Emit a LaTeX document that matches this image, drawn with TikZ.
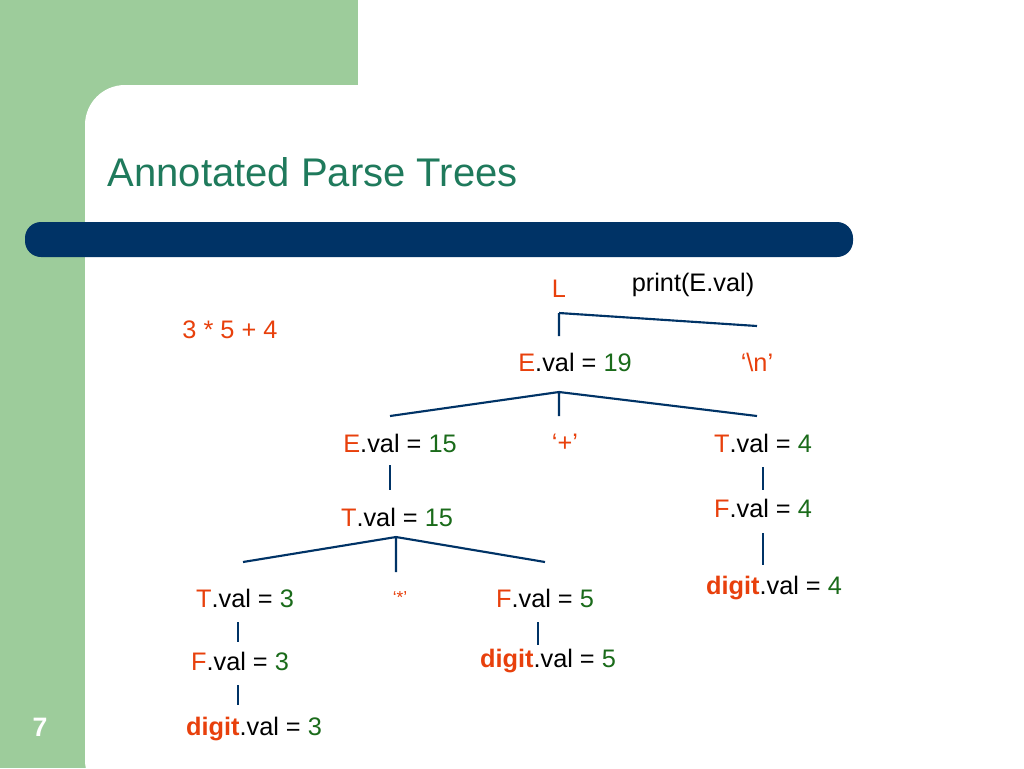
\documentclass[tikz,border=0pt]{standalone}
\usepackage{fontspec}
\setmainfont{Liberation Sans}
\usetikzlibrary{calc}
\definecolor{slidegreen}{HTML}{9DCC9B}
\definecolor{titlegreen}{HTML}{1F7A5C}
\definecolor{barblue}{HTML}{003366}
\definecolor{ntred}{HTML}{E8400C}
\definecolor{valgreen}{HTML}{1A6B1A}
\newcommand{\nt}[1]{\textcolor{ntred}{#1}}
\newcommand{\vv}[1]{\textcolor{valgreen}{#1}}
\newcommand{\dg}{\textcolor{ntred}{\textbf{digit}}}
\tikzset{lbl/.style={inner sep=1pt,font=\fontsize{19}{22}\selectfont},
	edge/.style={draw=barblue,line width=1.6pt}}
\begin{document}
\begin{tikzpicture}[x=0.75pt,y=-0.75pt]
	\useasboundingbox (0,0) rectangle (1024,768);
	% background
	\fill[slidegreen] (0,0) rectangle (1024,768);
	\fill[white] (358,0) rectangle (1024,85);
	\fill[white,rounded corners=30pt] (85,85) rectangle (1100,800);
	\fill[barblue,rounded corners=12pt] (25,222) rectangle (853,257);
	\node[font=\fontsize{30}{36}\selectfont,text=titlegreen,anchor=west] (title) at (103,172) {Annotated Parse Trees};
	\node[font=\fontsize{20}{24}\selectfont\bfseries,text=white] (pg) at (40,727) {7};

	% tree
	\node[lbl] (L) at (559,289) {\nt{L}};
	\node[lbl] (prt) at (693,285) {print(E.val)};
	\node[lbl] (expr) at (230,330) {\nt{3 * 5 + 4}};
	\node[lbl] (E19) at (575,362) {\nt{E}.val = \vv{19}};
	\node[lbl] (nl) at (757,362) {\nt{`\textbackslash n'}};
	\node[lbl] (E15) at (400,443) {\nt{E}.val = \vv{15}};
	\node[lbl] (plus) at (565,443) {\nt{`+'}};
	\node[lbl] (T4) at (763,443) {\nt{T}.val = \vv{4}};
	\node[lbl] (T15) at (397,517) {\nt{T}.val = \vv{15}};
	\node[lbl] (F4) at (763,508) {\nt{F}.val = \vv{4}};
	\node[lbl] (T3) at (245,598) {\nt{T}.val = \vv{3}};
	\node[lbl,font=\fontsize{13}{15}\selectfont] (star) at (400,598) {\nt{`*'}};
	\node[lbl] (F5) at (545,598) {\nt{F}.val = \vv{5}};
	\node[lbl] (D4) at (774,588) {\dg.val = \vv{4}};
	\node[lbl] (F3) at (240,661) {\nt{F}.val = \vv{3}};
	\node[lbl] (D5) at (548,661) {\dg.val = \vv{5}};
	\node[lbl] (D3) at (254,729) {\dg.val = \vv{3}};

	% connectors
	\coordinate (jL) at (559,313);
	\draw[edge] (jL) -- (559,336) (jL) -- (757,326);
	\coordinate (jE19) at (559,392);
	\draw[edge] (390,416) -- (jE19) -- (757,416) (jE19) -- (559,416);
	\draw[edge] (390,465) -- (390,490);
	\coordinate (jT15) at (396,537);
	\draw[edge] (243,562) -- (jT15) -- (545,562) (jT15) -- (396,572);
	\draw[edge] (763,467) -- (763,490);
	\draw[edge] (763,533) -- (763,565);
	\draw[edge] (238,622) -- (238,642);
	\draw[edge] (238,685) -- (238,705);
	\draw[edge] (538,622) -- (538,645);
\end{tikzpicture}
\end{document}
